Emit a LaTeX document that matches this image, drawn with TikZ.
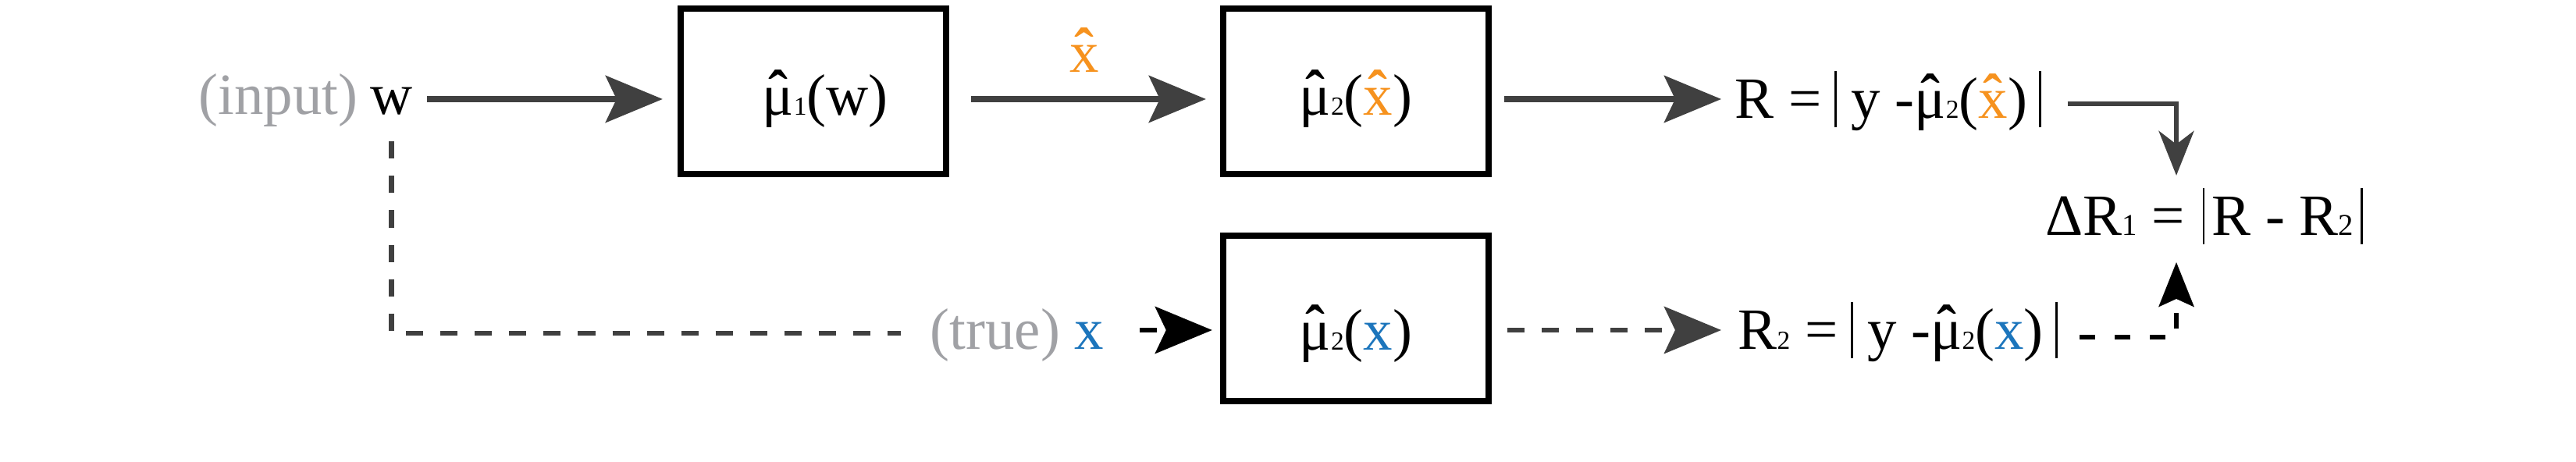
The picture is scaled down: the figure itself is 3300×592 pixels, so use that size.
\documentclass[tikz,border=0pt]{standalone}
\usepackage{fontspec}
\usepackage{graphicx}
\setmainfont{Liberation Serif}
\usetikzlibrary{arrows.meta,calc}
\definecolor{agray}{RGB}{64,64,64}
\definecolor{lgray}{RGB}{160,161,165}
\definecolor{xorange}{RGB}{246,146,30}
\definecolor{xblue}{RGB}{28,117,188}
\newcommand\hatsym[1]{{\ooalign{#1\cr\hidewidth\raisebox{0.06em}{\textbf{ˆ}}\hidewidth\cr}}}
\newcommand\lsub[1]{{\fontsize{9.5pt}{9.5pt}\selectfont #1}}
\newcommand\lsubb[1]{{\fontsize{11pt}{11pt}\selectfont #1}}
\newcommand\vb{\rule[-0.15em]{0.8pt}{0.97em}}
\begin{document}
\begin{tikzpicture}[x=0.01cm,y=-0.01cm,
  every node/.style={font=\fontsize{21.3pt}{25pt}\selectfont, inner sep=0pt},
  txt/.style={anchor=base west},
  box/.style={draw=black, line width=2.3pt, minimum width=3.4cm, minimum height=2.11cm, text height=0.72cm, text depth=0.12cm},
  bigtip/.style={-{Stealth[length=0.73cm,width=0.6cm,inset=0.14cm]}},
  smalltip/.style={-{Stealth[length=0.57cm,width=0.45cm,inset=#1]}},
  solidarr/.style={draw=agray, line width=2pt, bigtip},
  dsh/.style={line width=1.9pt, dash pattern=on 0.22cm off 0.22cm},
]
\useasboundingbox (0,0) rectangle (3300,592);

% rows
\coordinate (r1) at (0,127);
\coordinate (r2) at (0,423);
\coordinate (r3) at (0,427);
\coordinate (k1) at (2788,133);
\coordinate (k2) at (2788,432);

% nodes
\node[txt, text=lgray] (inlbl) at (254,147) {(input)};
\node[txt] (w) at (474,147) {w};
\node[box] (b1) at (1042,117) {\hspace*{0.3cm}\hatsym{μ}\lsub{1}(w)};
\node[txt, text=xorange] (xh) at (1370,93) {\hatsym{x}};
\node[box] (b2) at (1737,117) {\hatsym{μ}\lsub{2}(\textcolor{xorange}{\hatsym{x}})};
\node[txt] (R) at (2222,152) {R =\hspace{0.22em}\vb\hspace{0.25em}y -\hatsym{μ}\lsub{2}(\textcolor{xorange}{\hatsym{x}})\hspace{0.2em}\vb};
\node[txt] (dR) at (2620,302) {ΔR\lsubb{1} =\hspace{0.3em}\vb\hspace{0.12em}R - R\lsubb{2}\hspace{0.12em}\vb};
\node[txt] (tx) at (1191,448) {\textcolor{lgray}{(true)} \textcolor{xblue}{x}};
\node[box, text height=0.92cm] (b3) at (1737,408) {\hatsym{μ}\lsub{2}(\textcolor{xblue}{x})};
\node[txt] (R2) at (2226,448) {R\lsub{2} =\hspace{0.22em}\vb\hspace{0.25em}y -\hatsym{μ}\lsub{2}(\textcolor{xblue}{x})\hspace{0.2em}\vb};

% top row arrows
\draw[solidarr, shorten <=0.17cm, shorten >=0.19cm] (w.east |- r1) -- (b1.west |- r1);
\draw[solidarr, shorten <=0.28cm, shorten >=0.18cm] (b1.east |- r1) -- (b2.west |- r1);
\draw[solidarr, shorten <=0.16cm, shorten >=0.17cm] (b2.east |- r1) -- (R.west |- r1);

% R -> Delta R
\draw[draw=agray, line width=1.8pt, smalltip=0.17cm, shorten <=0.33cm, shorten >=0.15cm]
  (R.east |- k1) -- (k1) -- (k1 |- dR.north);

% R2 -> Delta R
\draw[black, line width=1.6pt, dash pattern=on 0.2cm off 0.25cm, smalltip=0.1cm, shorten <=0.28cm, shorten >=0.22cm]
  (R2.east |- k2) -- (k2) -- (k2 |- dR.south);

% dashed from w to (true) x
\draw[agray, dsh, shorten <=0.33cm, shorten >=0.37cm] (w.south) -- (w.south |- r3) -- (tx.west |- r3);

% (true) x -> box3
\draw[black, dsh, bigtip, shorten <=0.45cm, shorten >=0.1cm] (tx.east |- r2) -- (b3.west |- r2);

% box3 -> R2
\draw[agray, dsh, bigtip, shorten <=0.2cm, shorten >=0.21cm] (b3.east |- r2) -- (R2.west |- r2);
\end{tikzpicture}
\end{document}
